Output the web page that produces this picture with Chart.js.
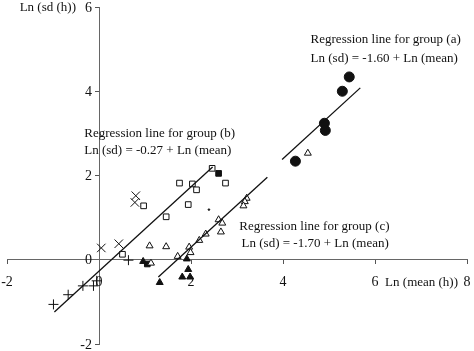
<!DOCTYPE html>
<html>
<head>
<meta charset="utf-8">
<script src="https://cdn.jsdelivr.net/npm/chart.js@4/dist/chart.umd.min.js"></script>
<style>
  html, body { margin: 0; padding: 0; background: #fff; }
  #wrap { width: 474px; height: 351px; }
</style>
</head>
<body>
<div id="wrap"><canvas id="plot"></canvas></div>
<script>
// Points: [Ln(mean), Ln(sd)]
const filledCircles = [[4.27, 2.34], [4.90, 3.24], [4.92, 3.07], [5.29, 4.00], [5.44, 4.34]];
const openTriangles = [[1.10, 0.33], [1.46, 0.31], [1.13, -0.08], [1.71, 0.08], [1.96, 0.30], [1.99, 0.17],
  [2.18, 0.46], [2.32, 0.61], [2.60, 0.95], [2.68, 0.87], [2.65, 0.66], [3.21, 1.46], [3.17, 1.38],
  [3.14, 1.28], [4.54, 2.53]];
const filledTriangles = [[0.96, -0.04], [1.32, -0.54], [1.81, -0.41], [1.98, -0.41], [1.94, -0.23], [1.91, 0.02]];
const openSquares = [[0.51, 0.13], [0.97, 1.28], [1.46, 1.02], [1.75, 1.82], [2.03, 1.80], [2.12, 1.66],
  [1.94, 1.31], [2.46, 2.17], [2.75, 1.82]];
const filledSquares = [[2.60, 2.05], [1.05, -0.10]];
const crosses = [[0.05, 0.28], [0.43, 0.38], [0.80, 1.52], [0.78, 1.36]];
const plusses = [[-0.99, -1.06], [-0.67, -0.83], [-0.35, -0.62], [-0.12, -0.62], [-0.05, -0.50], [0.64, -0.01]];
const dots = [[2.39, 1.19]];

// regression line ends
const lineA = [[3.98, 2.38], [5.68, 4.08]];
const lineB = [[-0.97, -1.24], [2.47, 2.20]];
const lineC = [[1.29, -0.41], [3.66, 1.96]];

const xTicks = [-2, 0, 2, 4, 6, 8];
const yTicks = [-2, 0, 2, 4, 6];

const toXY = arr => arr.map(p => ({ x: p[0], y: p[1] }));
const ink = '#111';

function markers(data, style, filled, radius) {
  return {
    type: 'scatter',
    data: toXY(data),
    pointStyle: style,
    pointRadius: radius,
    pointBackgroundColor: filled ? ink : '#fff',
    pointBorderColor: ink,
    pointBorderWidth: 1
  };
}

function regLine(data) {
  return {
    type: 'line',
    data: toXY(data),
    borderColor: ink,
    borderWidth: 1.3,
    pointRadius: 0,
    fill: false
  };
}

// text on the plot, anchored in data units
const notes = [
  { text: 'Regression line for group (a)', x: 4.6, y: 5.22 },
  { text: 'Ln (sd) = -1.60 + Ln (mean)', x: 4.6, y: 4.77 },
  { text: 'Regression line for group (b)', x: -0.32, y: 3.0 },
  { text: 'Ln (sd) = -0.27 + Ln (mean)', x: -0.32, y: 2.6 },
  { text: 'Regression line for group (c)', x: 3.05, y: 0.78 },
  { text: 'Ln (sd) = -1.70 + Ln (mean)', x: 3.1, y: 0.38 }
];

// the axes cross at the origin, so tick labels are placed next to the crossing lines
const textPlugin = {
  id: 'texts',
  afterDraw(chart) {
    const { ctx, scales: { x, y } } = chart;
    const x0 = x.getPixelForValue(0), y0 = y.getPixelForValue(0);
    ctx.save();
    ctx.fillStyle = ink;
    ctx.textBaseline = 'middle';
    ctx.font = '14px "Liberation Serif"';
    ctx.textAlign = 'center';
    x.ticks.forEach(t => ctx.fillText(String(t.value), Math.max(7, x.getPixelForValue(t.value)), y0 + 23));
    ctx.textAlign = 'right';
    y.ticks.forEach(t => ctx.fillText(String(t.value), x0 - 7, y.getPixelForValue(t.value) + 1));
    // axis titles
    ctx.font = '13px "Liberation Serif"';
    ctx.fillText('Ln (sd (h))', x0 - 23, y.getPixelForValue(6) + 1);
    ctx.textAlign = 'left';
    ctx.fillText('Ln (mean (h))', x.getPixelForValue(6.22), y0 + 23);
    notes.forEach(n => ctx.fillText(n.text, x.getPixelForValue(n.x), y.getPixelForValue(n.y)));
    ctx.restore();
  }
};

const axisStyle = {
  type: 'linear',
  grid: { drawOnChartArea: false, drawTicks: true, tickLength: 4, color: '#555' },
  border: { display: true, color: '#666', width: 1 },
  ticks: { display: false }
};

new Chart(document.getElementById('plot').getContext('2d'), {
  type: 'scatter',
  data: {
    datasets: [
      regLine(lineA), regLine(lineB), regLine(lineC),
      markers(filledCircles, 'circle', true, 5),
      markers(openTriangles, 'triangle', false, 4),
      markers(filledTriangles, 'triangle', true, 4),
      markers(openSquares, 'rect', false, 4),
      markers(filledSquares, 'rect', true, 4),
      markers(crosses, 'crossRot', false, 6),
      markers(plusses, 'cross', false, 5),
      markers(dots, 'circle', true, 0.8)
    ]
  },
  options: {
    responsive: true,
    maintainAspectRatio: false,
    animation: false,
    layout: { padding: { left: 5, right: 4, top: 7, bottom: 6 } },
    plugins: { legend: { display: false }, tooltip: { enabled: false } },
    scales: {
      x: Object.assign({}, axisStyle, {
        position: { y: 0 }, min: -2, max: 8,
        afterBuildTicks: s => { s.ticks = xTicks.map(v => ({ value: v })); }
      }),
      y: Object.assign({}, axisStyle, {
        position: { x: 0 }, min: -2, max: 6,
        afterBuildTicks: s => { s.ticks = yTicks.map(v => ({ value: v })); }
      })
    }
  },
  plugins: [textPlugin]
});
</script>
</body>
</html>
